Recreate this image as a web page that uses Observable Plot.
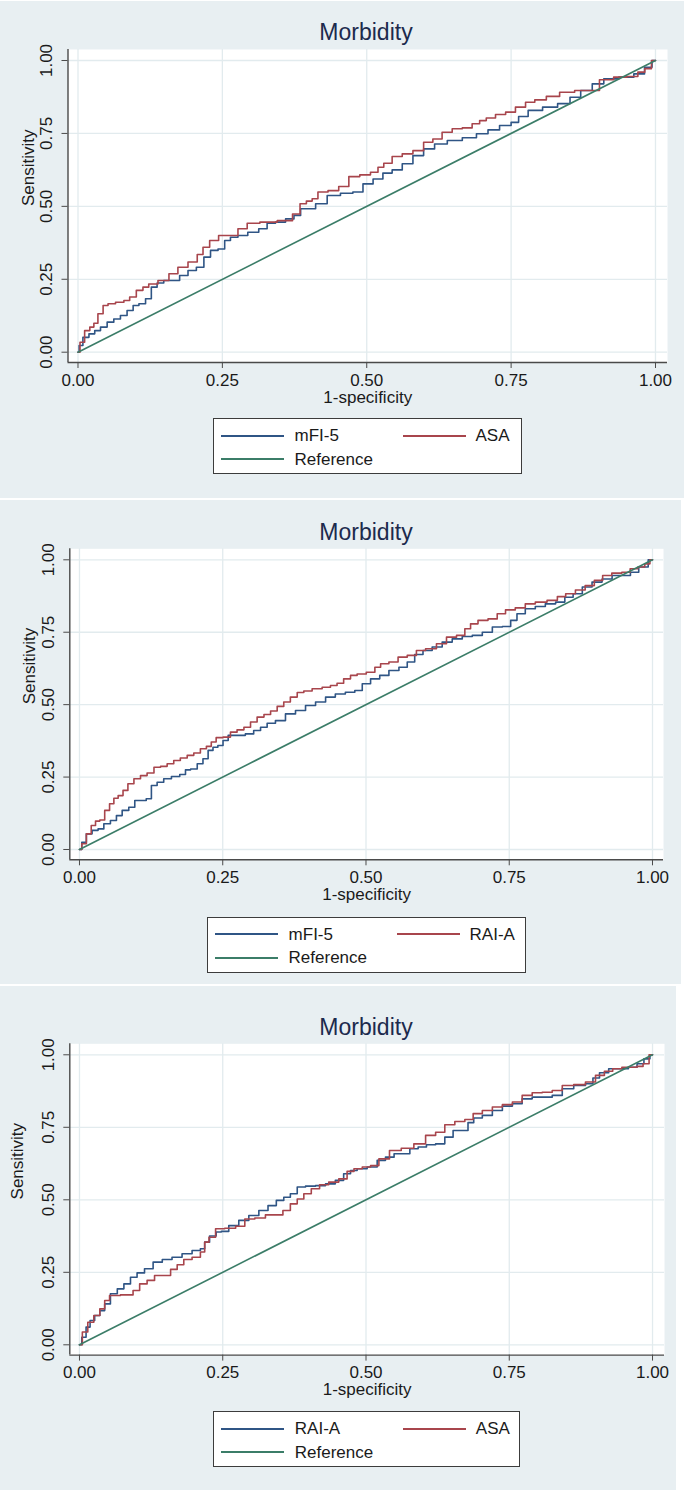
<!DOCTYPE html>
<html>
<head>
<meta charset="utf-8">
<script src="https://cdn.jsdelivr.net/npm/d3@7"></script>
<script src="https://cdn.jsdelivr.net/npm/@observablehq/plot@0.6"></script>
<style>
  body { margin: 0; background: #fff; width: 685px; height: 1492px; position: relative; overflow: hidden;
         font-family: "Liberation Sans", Arial, Helvetica, sans-serif; }
  .panel { position: absolute; background: #e8eff2; }
  .title { position: absolute; font-size: 23px; line-height: 23px; color: #1c2a4d; white-space: nowrap; transform: translateX(-50%); }
  .plotwrap { position: absolute; left: 0; width: 685px; }
  .legend { position: absolute; background: #fff; border: 1px solid #3c3c3c; box-sizing: border-box; }
  .key { position: absolute; height: 2px; }
  .lab { position: absolute; font-size: 17px; line-height: 17px; color: #1a1a1a; white-space: nowrap; }
</style>
</head>
<body>
<script>
// Axis ticks shared by every panel
const tickValues = [0, 0.25, 0.5, 0.75, 1];
const tickLabels = ["0.00", "0.25", "0.50", "0.75", "1.00"];
const xTitle = "1-specificity";
const yTitle = "Sensitivity";
const chartTitle = "Morbidity";

// Chance diagonal
const referenceLine = [[0, 0], [1, 1]];

// Panel 1: mFI-5 vs ASA  ([1-specificity, sensitivity])
const p1Names = ["mFI-5", "ASA", "Reference"];
const p1_mfi5 = [
  [0,0],[0.004,0.023],[0.013,0.051],[0.025,0.063],[0.033,0.074],[0.045,0.086],[0.056,0.103],[0.068,0.114],
  [0.079,0.126],[0.091,0.143],[0.100,0.160],[0.111,0.166],[0.123,0.183],[0.131,0.223],[0.143,0.237],[0.154,0.246],
  [0.169,0.246],[0.183,0.263],[0.198,0.280],[0.212,0.291],[0.224,0.326],[0.235,0.349],[0.250,0.354],[0.258,0.383],
  [0.270,0.394],[0.284,0.400],[0.304,0.411],[0.322,0.423],[0.333,0.442],[0.351,0.446],[0.368,0.457],[0.380,0.469],
  [0.391,0.492],[0.403,0.492],[0.420,0.509],[0.443,0.537],[0.466,0.545],[0.486,0.549],[0.501,0.577],[0.521,0.594],
  [0.535,0.614],[0.553,0.625],[0.570,0.646],[0.590,0.674],[0.607,0.697],[0.628,0.714],[0.651,0.726],[0.680,0.735],
  [0.700,0.749],[0.720,0.762],[0.740,0.777],[0.760,0.788],[0.766,0.808],[0.793,0.829],[0.816,0.840],[0.845,0.852],
  [0.859,0.874],[0.882,0.897],[0.899,0.920],[0.922,0.937],[0.951,0.943],[0.974,0.954],[0.988,0.977],[1,1]
];
const p1_asa = [
  [0,0],[0.007,0.034],[0.016,0.074],[0.025,0.086],[0.030,0.099],[0.039,0.132],[0.048,0.160],[0.056,0.166],
  [0.074,0.171],[0.085,0.177],[0.094,0.189],[0.108,0.212],[0.117,0.223],[0.128,0.234],[0.149,0.246],[0.166,0.269],
  [0.180,0.291],[0.201,0.309],[0.212,0.335],[0.221,0.360],[0.235,0.383],[0.252,0.400],[0.270,0.400],[0.284,0.423],
  [0.302,0.442],[0.328,0.446],[0.362,0.451],[0.381,0.474],[0.388,0.509],[0.403,0.518],[0.408,0.526],[0.423,0.549],
  [0.443,0.554],[0.460,0.568],[0.478,0.602],[0.498,0.608],[0.515,0.617],[0.524,0.634],[0.535,0.648],[0.553,0.671],
  [0.570,0.680],[0.590,0.691],[0.607,0.720],[0.622,0.731],[0.639,0.754],[0.657,0.766],[0.674,0.769],[0.691,0.783],
  [0.700,0.794],[0.714,0.803],[0.732,0.815],[0.749,0.823],[0.766,0.840],[0.784,0.857],[0.798,0.865],[0.824,0.877],
  [0.844,0.891],[0.876,0.897],[0.890,0.897],[0.916,0.934],[0.939,0.943],[0.962,0.945],[0.977,0.960],[0.986,0.972],[1,1]
];

// Panel 2: mFI-5 vs RAI-A
const p2Names = ["mFI-5", "RAI-A", "Reference"];
const p2_mfi5 = [
  [0,0],[0.008,0.025],[0.016,0.054],[0.028,0.066],[0.037,0.071],[0.048,0.089],[0.060,0.100],[0.069,0.117],
  [0.080,0.135],[0.092,0.146],[0.101,0.169],[0.112,0.169],[0.121,0.175],[0.130,0.221],[0.141,0.232],[0.153,0.244],
  [0.168,0.252],[0.182,0.259],[0.188,0.275],[0.200,0.278],[0.211,0.296],[0.220,0.313],[0.229,0.342],[0.237,0.353],
  [0.246,0.359],[0.255,0.376],[0.264,0.394],[0.281,0.394],[0.298,0.399],[0.310,0.411],[0.322,0.422],[0.333,0.436],
  [0.351,0.445],[0.368,0.468],[0.386,0.480],[0.403,0.497],[0.421,0.509],[0.438,0.526],[0.455,0.537],[0.473,0.543],
  [0.488,0.549],[0.499,0.572],[0.517,0.589],[0.531,0.601],[0.549,0.618],[0.566,0.629],[0.578,0.647],[0.592,0.673],
  [0.607,0.687],[0.624,0.699],[0.642,0.716],[0.659,0.727],[0.677,0.735],[0.694,0.739],[0.712,0.750],[0.729,0.768],
  [0.747,0.770],[0.758,0.791],[0.769,0.814],[0.787,0.831],[0.804,0.839],[0.822,0.848],[0.840,0.854],[0.854,0.871],
  [0.869,0.883],[0.886,0.906],[0.903,0.923],[0.921,0.934],[0.938,0.946],[0.956,0.946],[0.967,0.957],[0.985,0.975],[1,1]
];
const p2_raia = [
  [0,0],[0.008,0.020],[0.016,0.054],[0.025,0.083],[0.031,0.098],[0.040,0.102],[0.048,0.135],[0.057,0.158],
  [0.063,0.177],[0.072,0.186],[0.080,0.204],[0.089,0.227],[0.101,0.244],[0.112,0.255],[0.124,0.264],[0.136,0.284],
  [0.147,0.287],[0.159,0.296],[0.170,0.307],[0.182,0.316],[0.194,0.325],[0.205,0.333],[0.217,0.348],[0.226,0.356],
  [0.234,0.371],[0.243,0.386],[0.258,0.388],[0.269,0.405],[0.281,0.413],[0.293,0.422],[0.304,0.440],[0.316,0.457],
  [0.328,0.466],[0.339,0.478],[0.351,0.494],[0.362,0.509],[0.374,0.526],[0.386,0.542],[0.397,0.547],[0.415,0.555],
  [0.432,0.560],[0.444,0.566],[0.455,0.574],[0.467,0.589],[0.479,0.601],[0.490,0.606],[0.511,0.612],[0.520,0.629],
  [0.531,0.641],[0.549,0.647],[0.563,0.664],[0.581,0.670],[0.595,0.687],[0.613,0.693],[0.633,0.710],[0.648,0.733],
  [0.668,0.739],[0.677,0.762],[0.688,0.779],[0.703,0.791],[0.723,0.796],[0.735,0.814],[0.752,0.827],[0.769,0.834],
  [0.787,0.848],[0.804,0.854],[0.828,0.860],[0.840,0.873],[0.857,0.883],[0.874,0.896],[0.891,0.911],[0.906,0.929],
  [0.920,0.946],[0.938,0.954],[0.955,0.957],[0.967,0.969],[0.982,0.975],[0.991,0.986],[1,1]
];

// Panel 3: RAI-A vs ASA
const p3Names = ["RAI-A", "ASA", "Reference"];
const p3_raia = [
  [0,0],[0.008,0.026],[0.015,0.061],[0.022,0.084],[0.031,0.101],[0.040,0.118],[0.048,0.141],[0.060,0.176],
  [0.072,0.193],[0.083,0.210],[0.095,0.233],[0.106,0.248],[0.121,0.262],[0.136,0.285],[0.153,0.294],[0.170,0.302],
  [0.188,0.314],[0.205,0.325],[0.217,0.331],[0.220,0.354],[0.234,0.375],[0.243,0.389],[0.252,0.391],[0.269,0.411],
  [0.287,0.429],[0.304,0.446],[0.322,0.463],[0.336,0.480],[0.351,0.498],[0.362,0.509],[0.374,0.521],[0.386,0.544],
  [0.403,0.547],[0.421,0.549],[0.438,0.555],[0.455,0.567],[0.467,0.590],[0.479,0.601],[0.490,0.607],[0.514,0.613],
  [0.525,0.636],[0.543,0.647],[0.555,0.659],[0.569,0.659],[0.584,0.676],[0.598,0.682],[0.613,0.690],[0.630,0.693],
  [0.645,0.716],[0.659,0.739],[0.674,0.739],[0.682,0.766],[0.694,0.782],[0.712,0.791],[0.729,0.808],[0.747,0.823],
  [0.764,0.831],[0.781,0.848],[0.799,0.854],[0.816,0.854],[0.834,0.860],[0.851,0.883],[0.874,0.894],[0.892,0.900],
  [0.900,0.920],[0.915,0.938],[0.932,0.952],[0.949,0.952],[0.967,0.957],[0.979,0.969],[0.991,0.986],[1,1]
];
const p3_asa = [
  [0,0],[0.010,0.044],[0.019,0.078],[0.031,0.101],[0.040,0.124],[0.048,0.153],[0.057,0.170],[0.066,0.170],
  [0.077,0.172],[0.089,0.172],[0.098,0.187],[0.112,0.210],[0.124,0.222],[0.138,0.239],[0.153,0.239],[0.165,0.260],
  [0.176,0.276],[0.188,0.294],[0.205,0.302],[0.217,0.320],[0.220,0.354],[0.232,0.371],[0.243,0.400],[0.264,0.402],
  [0.281,0.409],[0.296,0.434],[0.316,0.437],[0.333,0.448],[0.348,0.448],[0.362,0.463],[0.374,0.486],[0.386,0.503],
  [0.397,0.521],[0.412,0.538],[0.426,0.552],[0.444,0.561],[0.461,0.572],[0.473,0.598],[0.485,0.607],[0.502,0.613],
  [0.514,0.618],[0.531,0.641],[0.551,0.670],[0.572,0.678],[0.595,0.693],[0.613,0.722],[0.630,0.733],[0.645,0.759],
  [0.665,0.770],[0.680,0.777],[0.694,0.797],[0.712,0.808],[0.729,0.820],[0.747,0.828],[0.764,0.837],[0.781,0.860],
  [0.799,0.869],[0.816,0.871],[0.834,0.877],[0.851,0.894],[0.874,0.897],[0.892,0.906],[0.909,0.929],[0.923,0.943],
  [0.938,0.952],[0.955,0.957],[0.967,0.957],[0.979,0.960],[0.988,0.969],[1,1]
];

// Styling
const FONT = '"Liberation Sans", Arial, Helvetica, sans-serif';
const BLUE = "#2f5585", RED = "#a8454c", GREEN = "#3b7d68";
const GRID = "#e2ebee", AXIS = "#4a4a4a", TEXT = "#1a1a1a";

function el(cls, style, text) {
  const d = document.createElement("div");
  d.className = cls;
  Object.assign(d.style, style);
  if (text != null) d.textContent = text;
  document.body.appendChild(d);
  return d;
}

function drawPanel(cfg) {
  // panel background
  el("panel", {left: "0px", top: cfg.bg[0] + "px", width: cfg.bg[2] + "px", height: (cfg.bg[1] - cfg.bg[0]) + "px"});
  // title
  el("title", {left: "366px", top: cfg.titleTop + "px"}, chartTitle);

  const lbl = d => tickLabels[tickValues.indexOf(d)];
  const xy = {x: d => d[0], y: d => d[1]};
  const svg = Plot.plot({
    width: 684,
    height: cfg.svgH,
    marginLeft: cfg.mL, marginRight: cfg.mR, marginTop: cfg.mT, marginBottom: cfg.mB,
    x: {domain: cfg.xDom},
    y: {domain: cfg.yDom},
    style: {background: "transparent", fontFamily: FONT, fontSize: "17px", color: TEXT, overflow: "visible"},
    marks: [
      Plot.frame({fill: "#ffffff", stroke: null}),
      Plot.gridX(tickValues, {stroke: GRID, strokeOpacity: 1, strokeWidth: 1.3}),
      Plot.gridY(tickValues, {stroke: GRID, strokeOpacity: 1, strokeWidth: 1.3}),
      Plot.axisX(tickValues, {tickFormat: lbl, tickSize: 6, tickPadding: 5, stroke: AXIS, fill: TEXT, label: null}),
      Plot.axisY(tickValues, {tickFormat: lbl, tickSize: 6, tickPadding: 15, tickRotate: -90,
                              textAnchor: "middle", lineAnchor: "middle", stroke: AXIS, fill: TEXT, label: null}),
      Plot.ruleX([cfg.xDom[0]], {stroke: AXIS, strokeWidth: 1.4}),
      Plot.ruleY([cfg.yDom[0]], {stroke: AXIS, strokeWidth: 1.4}),
      Plot.text([xTitle], {frameAnchor: "bottom", dy: cfg.xTitleDy, fill: TEXT}),
      Plot.text([yTitle], {frameAnchor: "left", rotate: -90, dx: cfg.yTitleDx, fill: TEXT}),
      Plot.line(cfg.s1, {...xy, curve: "step", stroke: BLUE, strokeWidth: 1.6}),
      Plot.line(cfg.s2, {...xy, curve: "step", stroke: RED, strokeWidth: 1.6}),
      Plot.line(referenceLine, {...xy, stroke: GREEN, strokeWidth: 1.6})
    ]
  });
  const wrap = el("plotwrap", {top: cfg.svgTop + "px"});
  wrap.appendChild(svg);

  // legend
  const lg = el("legend", {left: cfg.lg[0] + "px", top: cfg.lg[1] + "px", width: cfg.lg[2] + "px", height: "56px"});
  const rows = [17.5, 41];
  const items = [
    {c: BLUE, n: cfg.names[0], kx: 7, tx: 81, r: 0},
    {c: RED, n: cfg.names[1], kx: 189, tx: 262, r: 0},
    {c: GREEN, n: cfg.names[2], kx: 7, tx: 81, r: 1}
  ];
  for (const it of items) {
    const k = document.createElement("div");
    k.className = "key";
    Object.assign(k.style, {left: it.kx + "px", width: "63px", top: (rows[it.r] - 2) + "px", background: it.c});
    lg.appendChild(k);
    const t = document.createElement("div");
    t.className = "lab";
    Object.assign(t.style, {left: it.tx + "px", top: (rows[it.r] - 9.5) + "px"});
    t.textContent = it.n;
    lg.appendChild(t);
  }
}

drawPanel({
  bg: [1, 498, 684], titleTop: 21,
  svgTop: 40, svgH: 375, mL: 67.5, mR: 17, mT: 9, mB: 53,
  xDom: [-0.0173, 1.0208], yDom: [-0.0353, 1.0377], yTitleDx: -39.2, xTitleDy: 40,
  s1: p1_mfi5, s2: p1_asa, names: p1Names,
  lg: [212.5, 418, 309]
});
drawPanel({
  bg: [500, 984, 681], titleTop: 520.5,
  svgTop: 540, svgH: 375, mL: 69.3, mR: 21, mT: 8.3, mB: 55.7,
  xDom: [-0.0169, 1.0192], yDom: [-0.0356, 1.0380], yTitleDx: -40, xTitleDy: 40.5,
  s1: p2_mfi5, s2: p2_raia, names: p2Names,
  lg: [206.6, 916.7, 319]
});
drawPanel({
  bg: [986, 1490, 676], titleTop: 1015.5,
  svgTop: 1035, svgH: 375, mL: 69.3, mR: 20, mT: 8.3, mB: 55.4,
  xDom: [-0.0169, 1.0209], yDom: [-0.0355, 1.0379], yTitleDx: -52.6, xTitleDy: 39.5,
  s1: p3_raia, s2: p3_asa, names: p3Names,
  lg: [212.8, 1411, 307]
});
</script>
</body>
</html>
